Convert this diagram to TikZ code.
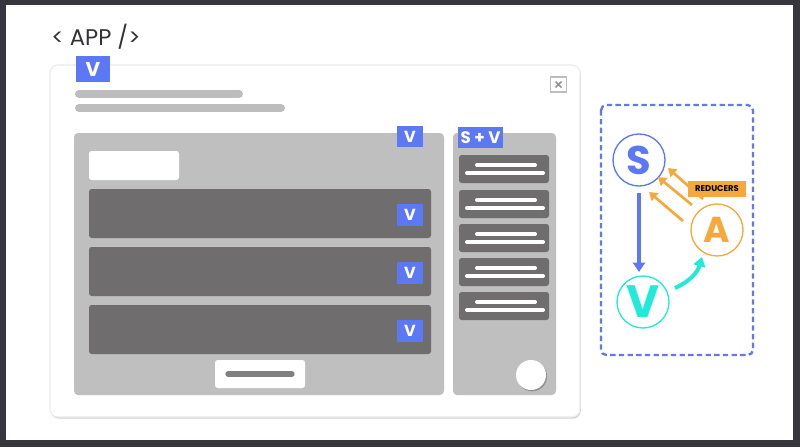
\documentclass[tikz,border=0pt]{standalone}
\usepackage{fontspec}
\setmainfont{Poppins}
\usetikzlibrary{arrows.meta,shadows,calc}
\definecolor{frame}{HTML}{38363D}
\definecolor{vblue}{HTML}{5D78F5}
\definecolor{dashblue}{HTML}{6478EE}
\definecolor{aorange}{HTML}{F6A93B}
\definecolor{vcyan}{HTML}{22EAD8}
\definecolor{panel}{HTML}{BFBFBF}
\definecolor{rowdark}{HTML}{6F6D6E}
\definecolor{bar}{HTML}{BDBDBD}
\definecolor{txt}{HTML}{333238}
\tikzset{
  badge/.style={fill=vblue, text=white, inner sep=0pt, font=\bfseries\fontsize{12}{12}\selectfont},
  panelbox/.style={fill=panel, rounded corners=3pt, inner sep=0pt},
  rowbox/.style={fill=rowdark, rounded corners=2pt, inner sep=0pt},
  whitebox/.style={fill=white, rounded corners=2pt, inner sep=0pt},
  graybar/.style={draw=bar, line width=6pt, line cap=round},
  whiteline/.style={draw=white, line width=3pt, line cap=round},
  ring/.style={circle, minimum size=39pt, inner sep=0pt, line width=1pt, fill=white},
  flowarrow/.style={line width=3pt, -{Triangle[length=7pt,width=9pt]}},
  redarrow/.style={draw=aorange, line width=2pt, -{Triangle[length=6pt,width=7.5pt]}},
}
\begin{document}
\begin{tikzpicture}[x=0.75pt,y=-0.75pt]
% frame
\fill[frame] (0,0) rectangle (800,447);
\fill[white] (6,5) rectangle (793,440);
\useasboundingbox (0,0) rectangle (800,447);

% title
\node[anchor=base west, inner sep=0pt, text=txt, font=\fontsize{17}{17}\selectfont] (title) at (51,45) {< APP />};

% main card
\node[fill=white, draw=black!8, line width=0.8pt, rounded corners=6pt, minimum width=397.5pt, minimum height=264pt, inner sep=0pt,
      drop shadow={shadow xshift=0.6pt, shadow yshift=-1.2pt, opacity=0.18, fill=black}] (card) at (315,241) {};
\node[badge, minimum width=25.5pt, minimum height=19.5pt, font=\bfseries\fontsize{15}{15}\selectfont] (vmain) at (93,69) {V};
\draw[graybar] (79,94) -- (239,94);
\draw[graybar] (79,108) -- (281,108);
% close icon
\node[draw=bar, line width=1.2pt, minimum width=12pt, minimum height=11pt, inner sep=0pt] (close) at (558.5,84.5) {};
\draw[bar!80!black, line width=1.2pt] ($(close)+(-3,-3)$) -- ($(close)+(3,3)$) ($(close)+(-3,3)$) -- ($(close)+(3,-3)$);

% left panel
\node[panelbox, minimum width=277.5pt, minimum height=196.5pt] (lpanel) at (259,264) {};
\node[badge, minimum width=19.5pt, minimum height=16pt] (vleft) at (410,136.5) {V};
\node[whitebox, minimum width=67.5pt, minimum height=21.75pt] (search) at (134,165.5) {};
\foreach \y/\n in {213.5/1, 271.5/2, 329.5/3} {
  \node[rowbox, minimum width=256.5pt, minimum height=36.75pt] (row\n) at (260,\y) {};
  \node[badge, minimum width=19.5pt, minimum height=16.5pt] (vrow\n) at (410,\y+1.5) {V};
}
\node[whitebox, minimum width=67.5pt, minimum height=21pt] (btn) at (260,374) {};
\draw[draw=black!50, line width=4pt, line cap=round] ($(btn.center)+(-32,0)$) -- ($(btn.center)+(32,0)$);

% right panel
\node[panelbox, minimum width=77.25pt, minimum height=196.5pt] (rpanel) at (504.5,264) {};
\node[badge, minimum width=33.75pt, minimum height=15.75pt, font=\bfseries\fontsize{12.5}{12.5}\selectfont] (sv) at (480.5,137.5) {S + V};
\foreach \y/\n in {169/1, 204/2, 238/3, 272/4, 306/5} {
  \node[rowbox, minimum width=67.5pt, minimum height=21pt] (item\n) at (504,\y) {};
  \draw[whiteline] ($(item\n.center)+(-27,-4)$) -- ($(item\n.center)+(31,-4)$);
  \draw[whiteline] ($(item\n.center)+(-37,4)$) -- ($(item\n.center)+(39,4)$);
}
\node[circle, fill=white, minimum size=22.5pt, inner sep=0pt,
      drop shadow={shadow xshift=0.8pt, shadow yshift=-1pt, opacity=0.25, fill=black}] (fab) at (531,375) {};

% right diagram
\draw[dashblue, line width=1.8pt, dash pattern=on 4pt off 2.5pt, rounded corners=4pt] (601,105) rectangle (753,355);
\node[ring, draw=vblue, text=vblue, font=\bfseries\fontsize{30}{30}\selectfont] (S) at (639,160) {S};
\node[ring, draw=aorange, text=aorange, font=\bfseries\fontsize{27}{27}\selectfont] (A) at (717,230) {A};
\node[ring, draw=vcyan, text=vcyan, font=\bfseries\fontsize{34}{34}\selectfont] (V) at (643,302) {V};

\draw[flowarrow, draw=vblue] ([yshift=-4.5pt]S.south) -- ([yshift=2.5pt]S.south |- V.north);
\draw[flowarrow, draw=vcyan] ($(V)+(32,-14)$) to[bend right=25] ($(A)+(-15,27)$);

\coordinate (r1s) at ($(A)+(-14,-31)$); \coordinate (r1e) at ($(S)+(29,8)$);
\coordinate (r2s) at ($(A)+(-25,-25)$); \coordinate (r2e) at ($(S)+(19,17)$);
\coordinate (r3s) at ($(A)+(-34,-9)$);  \coordinate (r3e) at ($(S)+(10,32)$);
\draw[redarrow] (r1s) -- (r1e);
\draw[redarrow] (r2s) -- (r2e);
\draw[redarrow] (r3s) -- (r3e);
\node[fill=aorange, text=black, minimum width=43.5pt, minimum height=12pt, inner sep=0pt, font=\bfseries\fontsize{6.3}{6.3}\selectfont] (reducers) at (717,189) {REDUCERS};
\end{tikzpicture}
\end{document}
